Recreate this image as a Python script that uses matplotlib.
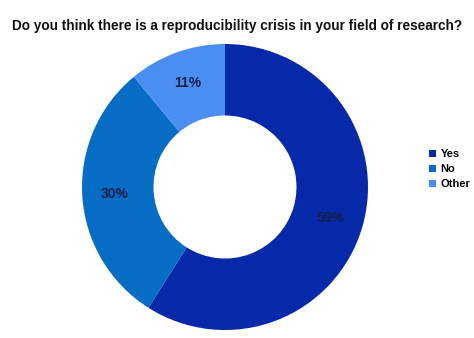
import matplotlib.pyplot as plt

plt.rcParams['font.family'] = ['Liberation Sans', 'DejaVu Sans']

labels = ['Yes', 'No', 'Other']
shares = [59, 30, 11]
pct_labels = ['59%', '30%', '11%']
colors = ['#0529a8', '#066cc4', '#4a8ef2']

fig = plt.figure(figsize=(4.74, 3.38), dpi=100)
fig.text(0.5, 0.922, 'Do you think there is a reproducibility crisis in your field of research?',
         ha='center', va='center', fontsize=9.8, fontweight='bold', color='#111111')

# donut centred at (225, 187) px, outer radius ~143 px
r = 143
ax = fig.add_axes([(225 - r) / 474, (338 - 187 - r) / 338, 2 * r / 474, 2 * r / 338])
wedges, texts = ax.pie(shares, colors=colors, startangle=90, counterclock=False,
                       radius=1, wedgeprops=dict(width=0.5, linewidth=0),
                       labels=pct_labels, labeldistance=0.77)
for t in texts:
    t.set_ha('center')
    t.set_va('center')
    t.set_fontsize(10)
    t.set_fontweight('bold')
    t.set_color('#14204a')
ax.set_xlim(-1, 1)
ax.set_ylim(-1, 1)
ax.set_aspect('auto')
ax.axis('off')

leg = fig.legend(wedges, labels, loc='center left', bbox_to_anchor=(0.885, 0.5),
                 frameon=False, handlelength=0.6, handleheight=0.6, handletextpad=0.4,
                 labelspacing=0.45, prop=dict(size=8, weight='bold'))

fig.savefig('out.png', dpi=100)
